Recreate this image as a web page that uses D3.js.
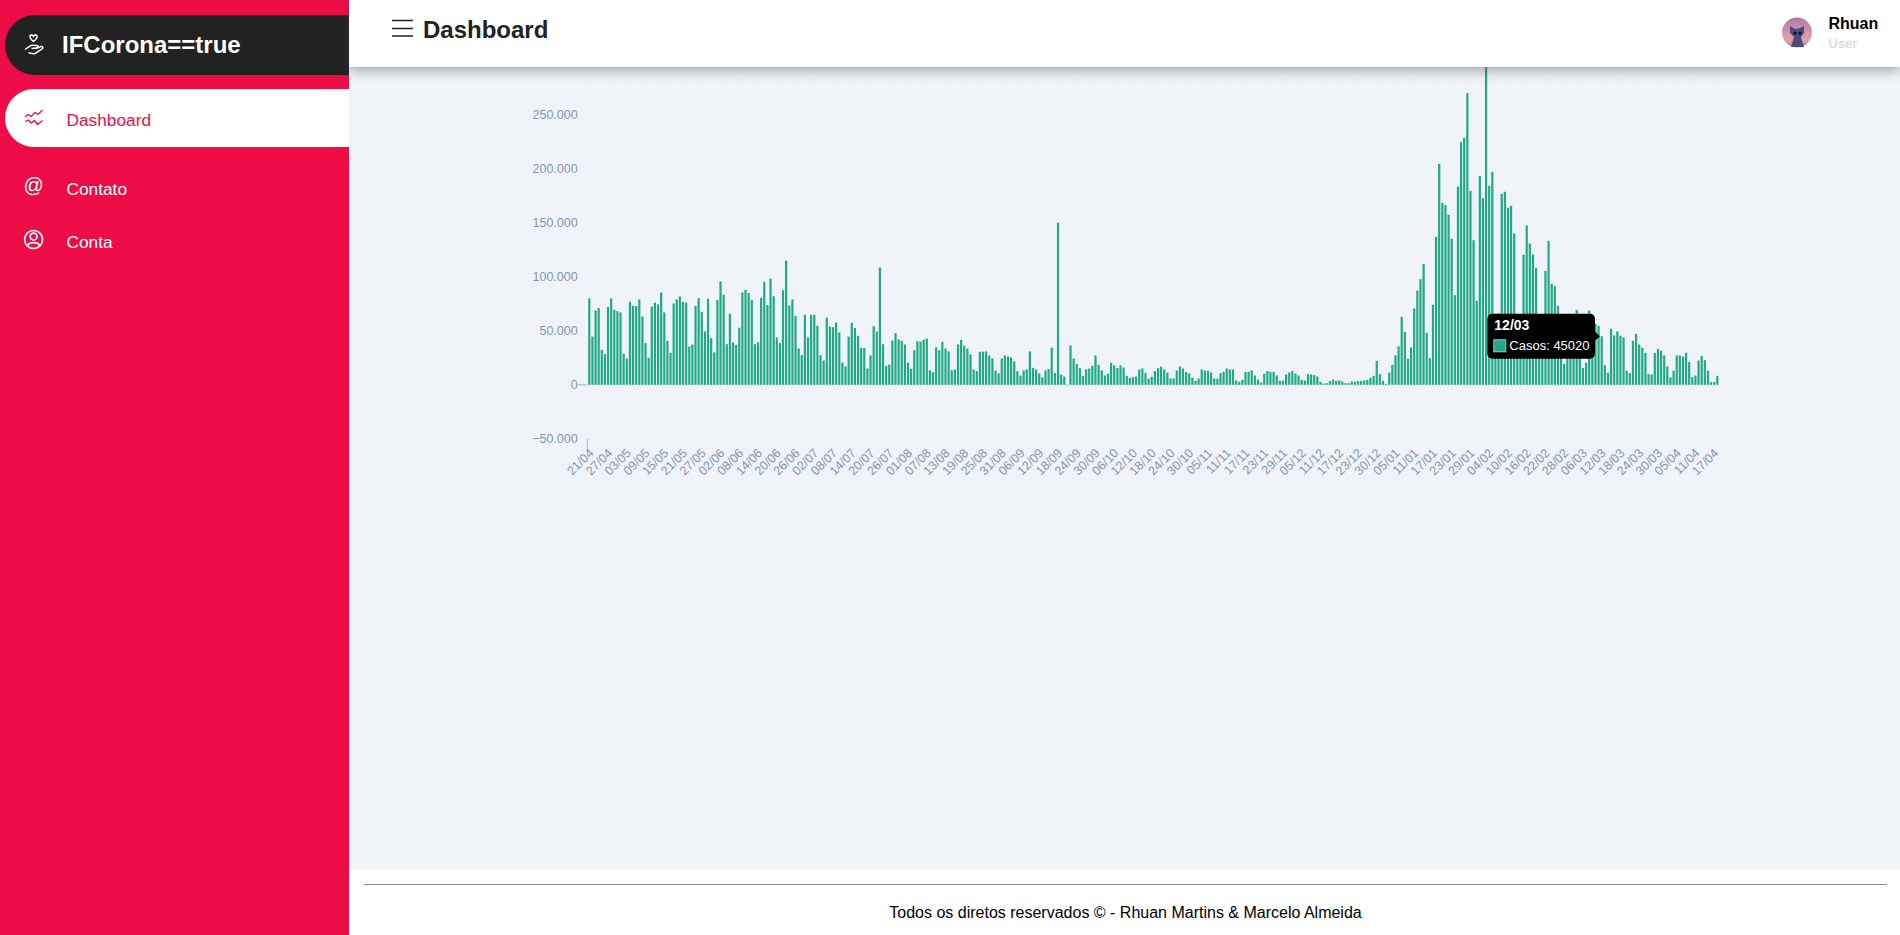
<!DOCTYPE html>
<html>
<head>
  <meta charset="utf-8">
  <title>IFCorona</title>
  <script src="https://cdn.jsdelivr.net/npm/d3@7"></script>
  <style>
    html, body {margin: 0; padding: 0; width: 1900px; height: 935px; overflow: hidden; background: #f0f3f8; font-family: "Liberation Sans", Arial, sans-serif;}
    #chart {position: absolute; left: 349px; top: 0;}
    #sidebar {position: absolute; left: 0; top: 0; width: 349px; height: 935px; background: #ee0c46;}
    #brand {position: absolute; left: 5px; top: 15px; width: 344px; height: 60px; background: #222; border-radius: 30px 0 0 30px;}
    #brand span {position: absolute; left: 57px; top: 16px; color: #fff; font-size: 24px; font-weight: bold; line-height: 28px;}
    #active {position: absolute; left: 5px; top: 89px; width: 344px; height: 58px; background: #fff; border-radius: 29px 0 0 29px;}
    .nav {position: absolute; left: 66.5px; font-size: 17.3px; line-height: 20px; color: #fff;}
    #icons {position: absolute; left: 0; top: 0;}
    #header {position: absolute; left: 349px; top: 0; width: 1551px; height: 67px; background: #fff; box-shadow: 0 4px 11px rgba(60,70,80,.42);}
    #header h2 {position: absolute; left: 74px; top: 16px; margin: 0; color: #222; font-size: 24px; line-height: 28px;}
    #user {position: absolute; left: 1479.5px; top: 15px; color: #000; font-size: 16px; font-weight: bold; line-height: 18px;}
    #role {position: absolute; left: 1479.5px; top: 36px; color: #ddd; font-size: 13px; font-weight: bold; line-height: 15px;}
    #footer {position: absolute; left: 349px; top: 868.5px; width: 1551px; height: 67px; background: #fff;}
    #footer hr {position: absolute; left: 15px; width: 1523px; top: 15px; margin: 0; border: 0; border-top: 1px solid #8c8c8c;}
    #footer p {position: absolute; left: 1px; width: 1551px; top: 35px; margin: 0; text-align: center; font-size: 16px; line-height: 18px; color: #000;}
    .tick text {font-family: "Liberation Sans", Arial, sans-serif; font-size: 12.5px; fill: #8496ae;}
  </style>
</head>
<body>
  <svg id="chart" width="1551" height="935"></svg>
  <div id="sidebar">
    <div id="brand"><span>IFCorona==true</span></div>
    <div id="active"></div>
    <div class="nav" style="top:109.5px;color:#ee0c46">Dashboard</div>
    <div class="nav" style="top:179px">Contato</div>
    <div class="nav" style="top:232px">Conta</div>
    <svg id="icons" width="349" height="300"></svg>
  </div>
  <div id="header">
    <svg width="80" height="67" style="position:absolute;left:0;top:0">
      <path d="M43 20.5H64M43 28.5H64M43 36H64" stroke="#222" stroke-width="1.5" fill="none"></path>
    </svg>
    <h2>Dashboard</h2>
    <svg id="avatar" width="40" height="40" style="position:absolute;left:1428px;top:13px"></svg>
    <div id="user">Rhuan</div>
    <div id="role">User</div>
  </div>
  <div id="footer">
    <hr>
    <p>Todos os diretos reservados © - Rhuan Martins &amp; Marcelo Almeida</p>
  </div>

  <script type="text/javascript">
  // one label every 6 bars, same as the chart shows them
  var tickLabels = [
    '21/04','27/04','03/05','09/05','15/05','21/05','27/05','02/06','08/06','14/06','20/06','26/06',
    '02/07','08/07','14/07','20/07','26/07','01/08','07/08','13/08','19/08','25/08','31/08',
    '06/09','12/09','18/09','24/09','30/09','06/10','12/10','18/10','24/10','30/10',
    '05/11','11/11','17/11','23/11','29/11','05/12','11/12','17/12','23/12','30/12',
    '05/01','11/01','17/01','23/01','29/01','04/02','10/02','16/02','22/02','28/02',
    '06/03','12/03','18/03','24/03','30/03','05/04','11/04','17/04'
  ];

  var casos = [
    80000,44700,68800,71000,32400,28400,72000,80000,69400,68200,67000,28700,24400,77000,73000,73000,79000,63300,38600,25000,
    72500,76000,74400,85500,67000,40700,29600,75300,79000,81800,76800,76200,35500,37300,73000,80200,67300,49400,79600,43200,
    30000,78700,95700,83300,37600,65700,39200,37000,52800,85500,88000,85000,78400,37600,39500,80500,95400,73800,98400,82000,
    43800,38600,87600,115000,73400,79000,63900,33600,27500,64800,43800,64800,64800,54600,27500,22500,62300,54000,53400,57700,
    48500,20700,17000,44700,57400,52500,45400,34300,34000,15100,27200,54300,49400,108600,37600,17600,18800,41000,47800,42000,
    40700,37300,20400,14800,32100,40400,39800,41700,42900,13300,11700,34600,32100,39800,33600,30900,13600,14200,37300,41700,
    36100,33600,28100,14200,12700,30600,30600,30900,27200,24400,13000,10500,24400,27200,26200,25300,21600,12700,8600,13300,
    14200,30900,15700,14200,10500,6800,13300,14500,34300,11100,150000,9300,7700,-600,36400,24400,19100,15400,8300,14200,
    15100,17600,27200,18500,13300,8600,10200,20400,17900,15400,17900,16000,8300,6500,7100,7700,14200,15100,11100,5600,
    7400,12700,15400,16700,14200,11400,5900,5900,13300,17000,15100,11700,10500,6500,3700,5900,14200,13300,13000,11400,
    5900,5600,10800,12000,15100,14200,14200,4000,2800,4600,11700,12000,13300,8600,4900,2200,10200,12700,12000,12000,
    8600,3700,3700,9600,11400,13000,10500,8600,4600,4000,9900,9600,8900,7700,2800,1200,1500,3400,4900,3700,
    4000,3100,1500,1500,3100,2800,3400,3700,4000,4600,6500,8300,22200,9900,3700,900,11400,18500,27200,35500,
    63000,49100,24100,34600,70700,87300,97800,112000,48100,24700,74100,137000,204600,168500,166600,157400,135200,83000,183600,224700,
    228700,270000,179600,133900,77800,193500,172800,320000,184200,197200,59600,66300,176800,178700,163900,165700,140100,59600,56500,120400,
    147500,130800,120700,108300,53400,56500,105500,133300,93500,91300,73100,53400,19400,24100,53400,56500,69400,53400,15700,20400,
    68800,59600,56500,54600,45020,18200,11100,51800,45700,49400,45400,43800,13000,10800,40700,47200,37300,34300,29600,9900,
    9600,29600,33300,31500,27200,17000,6800,13000,27200,27200,26200,29600,21000,7100,8600,22500,26800,22800,13000,2500,
    2500,8300
  ];

  var serieName = 'Casos';
  var tooltipLabel = '12/03';
  var yTicks = [-50000, 0, 50000, 100000, 150000, 200000, 250000];

  var barColor = '#1fa985';
  var fmt = d3.formatLocale({decimal: ',', thousands: '.', grouping: [3], currency: ['R$', '']}).format(',d');

  var svg = d3.select('#chart');
  var left = 238.3;   // axis x, relative to the main area
  var step = 3.1247;

  var x = d3.scaleBand()
    .domain(d3.range(casos.length))
    .range([left + 0.9, left + 0.9 + step * (casos.length - 0.3)])
    .paddingInner(0.3);

  var y = d3.scaleLinear().domain([-50000, 300000]).range([438.8, 60.8]);

  var tickIdx = tickLabels.map(function(d, i) { return i * 6; });
  var centre = function(i) { return x(i) + x.bandwidth() / 2; };

  // faint grid
  svg.append('g').selectAll('line').data(tickIdx).join('line')
    .attr('x1', centre).attr('x2', centre)
    .attr('y1', y(300000)).attr('y2', y(-50000))
    .attr('stroke', '#eff2f7').attr('stroke-width', 1);

  // bars
  svg.append('g').selectAll('rect').data(casos).join('rect')
    .attr('x', function(d, i) { return x(i); })
    .attr('width', x.bandwidth())
    .attr('y', function(d) { return y(Math.max(d, 0)); })
    .attr('height', function(d) { return Math.abs(y(d) - y(0)); })
    .attr('fill', barColor);

  // y axis
  var yAxis = svg.append('g')
    .attr('transform', 'translate(' + left + ',0)')
    .call(d3.axisLeft(y).tickValues(yTicks).tickSize(0).tickPadding(9.6).tickFormat(fmt));
  yAxis.select('.domain').remove();

  // the only two tick marks that show up
  svg.append('line')
    .attr('x1', left - 10).attr('x2', left)
    .attr('y1', y(0)).attr('y2', y(0))
    .attr('stroke', '#a9b4c2');
  svg.append('line')
    .attr('x1', left).attr('x2', left)
    .attr('y1', y(-50000)).attr('y2', y(-50000) + 10)
    .attr('stroke', '#a9b4c2');

  // x axis
  var xAxis = svg.append('g')
    .attr('transform', 'translate(0,' + y(-50000) + ')')
    .call(d3.axisBottom(x).tickValues(tickIdx).tickSize(0).tickFormat(function(i) { return tickLabels[i / 6]; }));
  xAxis.select('.domain').remove();
  xAxis.selectAll('text')
    .attr('text-anchor', 'end')
    .attr('dy', 0)
    .attr('y', 0)
    .attr('transform', 'translate(5,15) rotate(-45)');

  // tooltip, anchored on the hovered bar
  var hovered = tickLabels.indexOf(tooltipLabel) * 6;
  var tipX = centre(hovered) - 1.7;
  var tipY = y(casos[hovered]);
  var tip = svg.append('g').attr('transform', 'translate(' + tipX + ',' + tipY + ')');
  tip.append('rect')
    .attr('x', -112.7).attr('y', -22.4)
    .attr('width', 107.7).attr('height', 45)
    .attr('rx', 5).attr('fill', '#000');
  tip.append('path')
    .attr('d', 'M-5.5 -5L0 0L-5.5 5Z')
    .attr('fill', '#000');
  tip.append('text')
    .attr('x', -105.7).attr('y', -5.8)
    .attr('fill', '#fff')
    .style('font-size', '14px').style('font-weight', 'bold')
    .text(tooltipLabel);
  tip.append('rect')
    .attr('x', -106.2).attr('y', 3.6)
    .attr('width', 12).attr('height', 12)
    .attr('fill', barColor).attr('stroke', '#b8b8b8').attr('stroke-width', 1);
  tip.append('text')
    .attr('x', -90.7).attr('y', 13.6)
    .attr('fill', '#fff')
    .style('font-size', '13px')
    .text(serieName + ': ' + casos[hovered]);

  // sidebar icons
  var icons = d3.select('#icons');
  icons.append('g').attr('fill', 'none').attr('stroke', '#fff').attr('stroke-width', 1.5)
    .selectAll('path')
    .data([
      'M33.5 41.5C30 38.5 29.5 37.5 30 36C30.6 34.6 32.7 34.8 33.5 36.3C34.3 34.8 36.4 34.6 37 36C37.5 37.5 37 38.5 33.5 41.5Z',
      'M25 49.5L31 45.5C33 44.5 35 46 37 45.5C38.5 45.2 38.5 47.5 36.5 48L31.5 48.5',
      'M36 48.5L41 46.5C43 46.2 43.5 48 42 49L35 53.5C33 54.5 31 52.5 28.5 53'
    ])
    .join('path').attr('d', function(d) { return d; });

  icons.append('g').attr('fill', 'none').attr('stroke', '#ee0c46').attr('stroke-width', 1.3)
    .selectAll('path')
    .data([
      'M25 117L28 114.5L31 116.5L35 112.5L38 114.5L42.5 110',
      'M25 121.5L28.5 120L31 123L34.5 120.5L37.5 124.5L42.5 120.5'
    ])
    .join('path').attr('d', function(d) { return d; });

  icons.append('text')
    .attr('x', 33.6).attr('y', 191.5)
    .attr('text-anchor', 'middle')
    .attr('fill', '#fff')
    .style('font-family', '"Liberation Sans", Arial, sans-serif')
    .style('font-size', '20px')
    .text('@');

  var conta = icons.append('g').attr('fill', 'none').attr('stroke', '#fff').attr('stroke-width', 1.6);
  conta.append('circle').attr('cx', 33.6).attr('cy', 239.5).attr('r', 9);
  conta.append('circle').attr('cx', 33.6).attr('cy', 236.5).attr('r', 3.4);
  conta.append('path').attr('d', 'M27.5 246C28.5 241.5 38.7 241.5 39.7 246');

  // avatar, just shapes
  var avatar = d3.select('#avatar');
  var grad = avatar.append('defs').append('linearGradient')
    .attr('id', 'sky').attr('x1', 0).attr('x2', 0).attr('y1', 0).attr('y2', 1);
  [['0%', '#b078a8'], ['55%', '#d49ab0'], ['78%', '#e0a49c'], ['100%', '#5f8fc0']].forEach(function(s) {
    grad.append('stop').attr('offset', s[0]).attr('stop-color', s[1]);
  });
  avatar.append('circle').attr('cx', 20).attr('cy', 19.5).attr('r', 15).attr('fill', 'url(#sky)');
  avatar.append('path')
    .attr('d', 'M13 13L18 16L23 15L27 13L27 20L24 24L27 34L14 34L17 24L13 20Z')
    .attr('fill', '#4f4a80');
  avatar.append('circle').attr('cx', 18).attr('cy', 20).attr('r', 1.6).attr('fill', '#111');
  avatar.append('circle').attr('cx', 23).attr('cy', 20).attr('r', 1.6).attr('fill', '#111');
  </script>
</body>
</html>
